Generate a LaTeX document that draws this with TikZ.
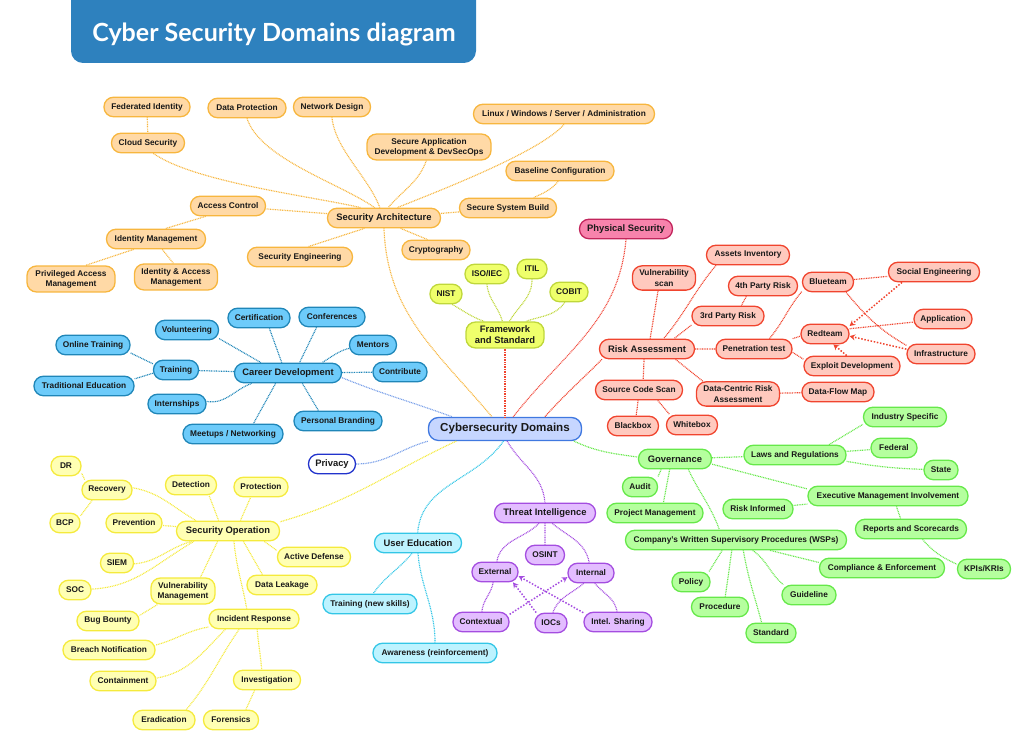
\documentclass[tikz,border=0pt]{standalone}
\usepackage{fontspec}
\setmainfont{Liberation Sans}
\newfontfamily\titlefont{Lato}
\usetikzlibrary{arrows.meta}
\definecolor{orangefill}{HTML}{FFD9A6}
\definecolor{orangeline}{HTML}{F7B63E}
\definecolor{limefill}{HTML}{EFFF6B}
\definecolor{limeline}{HTML}{BFD73A}
\definecolor{pinkfill}{HTML}{F783AC}
\definecolor{pinkline}{HTML}{C2255C}
\definecolor{redfill}{HTML}{FFC9BE}
\definecolor{redline}{HTML}{F0442E}
\definecolor{bluefill}{HTML}{6DCBFA}
\definecolor{blueline}{HTML}{1F86B8}
\definecolor{yellowfill}{HTML}{FFFFB3}
\definecolor{yellowline}{HTML}{F5EA3C}
\definecolor{cyanfill}{HTML}{BDF3FF}
\definecolor{cyanline}{HTML}{33C6E6}
\definecolor{purplefill}{HTML}{E3BDFF}
\definecolor{purpleline}{HTML}{A44DE0}
\definecolor{greenfill}{HTML}{B5FF9E}
\definecolor{greenline}{HTML}{66E84A}
\definecolor{corefill}{HTML}{C6D6FF}
\definecolor{coreline}{HTML}{3F78E0}
\definecolor{navyline}{HTML}{2233CC}
\definecolor{titleblue}{HTML}{2E81BE}
\tikzset{
  topic/.style={draw,rounded corners=9.5pt,line width=1.3pt,align=center,text=black!90,inner xsep=1pt,inner ysep=4pt,
    minimum height=19.5pt,font=\bfseries\fontsize{8.3}{10.2}\selectfont},
  big/.style={font=\bfseries\fontsize{9.4}{11}\selectfont},
  orangenode/.style={topic,draw=orangeline,fill=orangefill},
  limenode/.style={topic,draw=limeline,fill=limefill},
  rednode/.style={topic,draw=redline,fill=redfill},
  bluenode/.style={topic,draw=blueline,fill=bluefill},
  yellownode/.style={topic,draw=yellowline,fill=yellowfill},
  cyannode/.style={topic,draw=cyanline,fill=cyanfill},
  purplenode/.style={topic,draw=purpleline,fill=purplefill},
  greennode/.style={topic,draw=greenline,fill=greenfill},
  link/.style={line width=1.2pt,dash pattern=on 0.9pt off 0.8pt},
  jump/.style={line width=1.5pt,dash pattern=on 1.5pt off 1.7pt,-{Stealth[length=5.5pt,width=6pt,open,line width=1pt]}}
}
\begin{document}
\begin{tikzpicture}[x=1pt,y=1pt]
  \useasboundingbox (0,1) rectangle (1026,736);
  \fill[titleblue] (71,736) [rounded corners=12pt] -- (71,673) -- (476,673) [sharp corners] -- (476,736) -- cycle;
  \node[text=white,font=\titlefont\bfseries\fontsize{25}{30}\selectfont] (title) at (274,702) {Cyber Security Domains diagram};

  \node[topic,draw=coreline,fill=corefill,minimum width=153pt,minimum height=23pt,rounded corners=10pt,font=\bfseries\fontsize{11.6}{13}\selectfont] (cyber) at (505,307) {Cybersecurity Domains};
  \node[topic,big,draw=navyline,fill=white,minimum width=47pt] (privacy) at (332,272) {Privacy};
  \node[topic,big,draw=pinkline,fill=pinkfill,minimum width=93pt] (physical) at (626,507) {Physical Security};

  % architecture
  \node[orangenode,big,minimum width=113pt] (secarch) at (384,518) {Security Architecture};
  \node[orangenode,minimum width=86pt] (fedid) at (147,629) {Federated Identity};
  \node[orangenode,minimum width=73pt] (cloud) at (148,593) {Cloud Security};
  \node[orangenode,minimum width=78pt] (dataprot) at (247,628) {Data Protection};
  \node[orangenode,minimum width=77pt] (netdes) at (332,629) {Network Design};
  \node[orangenode,minimum width=124pt] (secapp) at (429,589) {Secure Application\\Development \& DevSecOps};
  \node[orangenode,minimum width=181pt] (linux) at (564,622) {Linux / Windows / Server / Administration};
  \node[orangenode,minimum width=108pt] (baseline) at (560,565) {Baseline Configuration};
  \node[orangenode,minimum width=97pt] (secbuild) at (508,528) {Secure System Build};
  \node[orangenode,minimum width=75pt] (access) at (228,530) {Access Control};
  \node[orangenode,minimum width=99pt] (idmgmt) at (156,497) {Identity Management};
  \node[orangenode,minimum width=105pt] (seceng) at (300,479) {Security Engineering};
  \node[orangenode,minimum width=68pt] (crypto) at (436,486) {Cryptography};
  \node[orangenode,minimum width=88pt] (privaccess) at (71,457) {Privileged Access\\Management};
  \node[orangenode,minimum width=83pt] (idaccess) at (176,459) {Identity \& Access\\Management};

  % standards
  \node[limenode,big,minimum width=78pt] (framework) at (505,401) {Framework\\and Standard};
  \node[limenode,minimum width=32pt] (nist) at (446,442) {NIST};
  \node[limenode,minimum width=44pt] (iso) at (487,462) {ISO/IEC};
  \node[limenode,minimum width=30pt] (itil) at (532,467) {ITIL};
  \node[limenode,minimum width=38pt] (cobit) at (569,444) {COBIT};

  % risk
  \node[rednode,big,minimum width=95pt] (risk) at (647,387) {Risk Assessment};
  \node[rednode,minimum width=63pt] (vuln) at (664,458) {Vulnerability\\scan};
  \node[rednode,minimum width=83pt] (assets) at (748,481) {Assets Inventory};
  \node[rednode,minimum width=69pt] (party4) at (763,450) {4th Party Risk};
  \node[rednode,minimum width=72pt] (party3) at (728,420) {3rd Party Risk};
  \node[rednode,minimum width=76pt] (pentest) at (754,387) {Penetration test};
  \node[rednode,minimum width=51pt] (blueteam) at (828,454) {Blueteam};
  \node[rednode,minimum width=91pt] (social) at (934,464) {Social Engineering};
  \node[rednode,minimum width=48pt] (redteam) at (825,402) {Redteam};
  \node[rednode,minimum width=58pt] (app) at (943,417) {Application};
  \node[rednode,minimum width=68pt] (infra) at (941,382) {Infrastructure};
  \node[rednode,minimum width=96pt] (exploit) at (852,370) {Exploit Development};
  \node[rednode,minimum width=87pt] (srcscan) at (639,346) {Source Code Scan};
  \node[rednode,minimum width=83pt] (datarisk) at (738,342) {Data-Centric Risk\\Assessment};
  \node[rednode,minimum width=72pt] (dataflow) at (838,344) {Data-Flow Map};
  \node[rednode,minimum width=51pt] (blackbox) at (633,310) {Blackbox};
  \node[rednode,minimum width=51pt] (whitebox) at (692,311) {Whitebox};

  % career
  \node[bluenode,big,minimum width=107pt] (career) at (288,363) {Career Development};
  \node[bluenode,minimum width=63pt] (volunteer) at (187,406) {Volunteering};
  \node[bluenode,minimum width=62pt] (cert) at (259,418) {Certification};
  \node[bluenode,minimum width=66pt] (conf) at (332,419) {Conferences};
  \node[bluenode,minimum width=47pt] (mentors) at (373,391) {Mentors};
  \node[bluenode,minimum width=54pt] (contribute) at (400,364) {Contribute};
  \node[bluenode,minimum width=45pt] (training) at (176,366) {Training};
  \node[bluenode,minimum width=74pt] (online) at (93,391) {Online Training};
  \node[bluenode,minimum width=100pt] (tradedu) at (84,350) {Traditional Education};
  \node[bluenode,minimum width=58pt] (intern) at (177,332) {Internships};
  \node[bluenode,minimum width=100pt] (meetups) at (233,302) {Meetups / Networking};
  \node[bluenode,minimum width=88pt] (branding) at (338,315) {Personal Branding};

  % operation
  \node[yellownode,big,minimum width=103pt] (secop) at (228,205) {Security Operation};
  \node[yellownode,minimum width=30pt] (dr) at (66,270) {DR};
  \node[yellownode,minimum width=50pt] (recovery) at (107,246) {Recovery};
  \node[yellownode,minimum width=30pt] (bcp) at (65,213) {BCP};
  \node[yellownode,minimum width=56pt] (prevention) at (134,213) {Prevention};
  \node[yellownode,minimum width=51pt] (detection) at (191,251) {Detection};
  \node[yellownode,minimum width=54pt] (protection) at (261,249) {Protection};
  \node[yellownode,minimum width=33pt] (siem) at (117,173) {SIEM};
  \node[yellownode,minimum width=32pt] (soc) at (75,146) {SOC};
  \node[yellownode,minimum width=73pt] (active) at (314,179) {Active Defense};
  \node[yellownode,minimum width=70pt] (leakage) at (282,151) {Data Leakage};
  \node[yellownode,minimum width=64pt] (vulnmgmt) at (183,145) {Vulnerability\\Management};
  \node[yellownode,minimum width=62pt] (bug) at (108,115) {Bug Bounty};
  \node[yellownode,minimum width=90pt] (incident) at (254,117) {Incident Response};
  \node[yellownode,minimum width=92pt] (breach) at (109,86) {Breach Notification};
  \node[yellownode,minimum width=66pt] (contain) at (123,55) {Containment};
  \node[yellownode,minimum width=67pt] (investig) at (267,56) {Investigation};
  \node[yellownode,minimum width=62pt] (eradic) at (164,16) {Eradication};
  \node[yellownode,minimum width=55pt] (forensic) at (231,16) {Forensics};

  % education
  \node[cyannode,big,minimum width=87pt] (usered) at (418,193) {User Education};
  \node[cyannode,minimum width=94pt] (trainnew) at (370,132) {Training (new skills)};
  \node[cyannode,minimum width=124pt] (aware) at (435,83) {Awareness (reinforcement)};

  % threat
  \node[purplenode,big,minimum width=101pt] (threat) at (545,223) {Threat Intelligence};
  \node[purplenode,minimum width=39pt] (osint) at (545,181) {OSINT};
  \node[purplenode,minimum width=46pt] (external) at (495,164) {External};
  \node[purplenode,minimum width=46pt] (internal) at (591,163) {Internal};
  \node[purplenode,minimum width=56pt] (contextual) at (481,114) {Contextual};
  \node[purplenode,minimum width=32pt] (iocs) at (551,113) {IOCs};
  \node[purplenode,minimum width=68pt] (intel) at (618,114) {Intel. Sharing};

  % governance
  \node[greennode,big,minimum width=73pt] (gov) at (675,277) {Governance};
  \node[greennode,minimum width=35pt] (audit) at (640,249) {Audit};
  \node[greennode,minimum width=96pt] (project) at (655,223) {Project Management};
  \node[greennode,minimum width=221pt] (company) at (736,196) {Company's Written Supervisory Procedures (WSPs)};
  \node[greennode,minimum width=102pt] (laws) at (795,281) {Laws and Regulations};
  \node[greennode,minimum width=83pt] (industry) at (905,319) {Industry Specific};
  \node[greennode,minimum width=46pt] (federal) at (894,288) {Federal};
  \node[greennode,minimum width=34pt] (state) at (941,266) {State};
  \node[greennode,minimum width=160pt] (exec) at (888,240) {Executive Management Involvement};
  \node[greennode,minimum width=70pt] (riskinf) at (758,227) {Risk Informed};
  \node[greennode,minimum width=111pt] (reports) at (911,207) {Reports and Scorecards};
  \node[greennode,minimum width=53pt] (kpis) at (984,167) {KPIs/KRIs};
  \node[greennode,minimum width=125pt] (comply) at (882,168) {Compliance \& Enforcement};
  \node[greennode,minimum width=54pt] (guide) at (809,141) {Guideline};
  \node[greennode,minimum width=50pt] (standard) at (771,103) {Standard};
  \node[greennode,minimum width=57pt] (procedure) at (720,129) {Procedure};
  \node[greennode,minimum width=38pt] (policy) at (691,154) {Policy};

  \draw[link,orangeline]
    (cloud.-63) to[out=-35,in=167,looseness=0.6] (secarch.156)
    (fedid) -- (cloud)
    (dataprot.south) to[out=-72,in=145,looseness=0.7] (secarch.132)
    (netdes.south) to[out=-85,in=110,looseness=0.8] (secarch.112)
    (secapp.-101) to[out=-110,in=50] (secarch.68)
    (linux.south) to[out=-130,in=22,looseness=0.5] (secarch.38)
    (baseline.-100) to[out=-130,in=25] (secbuild.22)
    (secarch) -- (secbuild)
    (secarch) -- (access)
    (access.-155) -- (idmgmt.48)
    (idmgmt.-155) -- (privaccess.43)
    (idmgmt.-59) -- (idaccess.101)
    (secarch.-152) -- (seceng.51)
    (secarch.-32) -- (crypto.129)
    (secarch.south) to[out=-88,in=130] (cyber.137);
  \draw[link,limeline]
    (nist.-59) to[out=-30,in=160] (framework.147)
    (iso.south) to[out=-85,in=105] (framework.101)
    (itil.south) to[out=-90,in=60] (framework.72)
    (cobit.-112) to[out=-125,in=20] (framework.33);
  \draw[link,redline] (framework) -- (cyber);
  \draw[link,redline!85!pinkfill] (physical.south) to[out=-95,in=52] (cyber.56);
  \draw[link,redline]
    (risk.-167) to[out=-135,in=48] (cyber.17)
    (vuln.-115) -- (risk.73)
    (assets.-162) to[out=-130,in=50] (risk.32)
    (party3.-166) -- (risk.21)
    (party4.-148) -- (party3.38)
    (risk) -- (pentest)
    (pentest.34) to[out=50,in=-130] (blueteam.-160)
    (pentest.15) -- (redteam.-175)
    (pentest.-5) -- (exploit.172)
    (blueteam) -- (social)
    (blueteam.-30) to[out=-50,in=150] (infra.166)
    (redteam.12) -- (app)
    (risk.-106) -- (srcscan.68)
    (risk.-20) -- (datarisk.160)
    (srcscan.-95) -- (blackbox.73)
    (srcscan.-29) -- (whitebox.155)
    (datarisk) -- (dataflow);
  \draw[jump,redline] (social.-162) -- (redteam.18);
  \draw[jump,redline] (infra.172) -- (redteam.-5);
  \draw[jump,redline] (exploit.117) -- (redteam.-51);
  \draw[link,coreline!70]
    (career.-5) to[out=-22,in=160] (cyber.167)
    (privacy) to[out=0,in=195] (cyber.-171);
  \draw[link,blueline]
    (volunteer.-15) -- (career.159)
    (cert.-45) -- (career.121)
    (conf.-146) -- (career.42)
    (mentors.-172) to[out=-165,in=30] (career.17)
    (career) -- (contribute)
    (career) -- (training)
    (training.165) -- (online.-12)
    (training.-172) -- (tradedu.8)
    (intern.5) to[out=-10,in=-160] (career.-164)
    (career.-140) -- (meetups.27)
    (career.-36) -- (branding.152);
  \draw[link,yellowline]
    (cyber.-166) to[out=205,in=16] (secop.10)
    (recovery.5) to[out=-10,in=150] (secop.162)
    (recovery.155) -- (dr.-25)
    (recovery.-145) -- (bcp.25)
    (secop) -- (prevention)
    (secop.132) -- (detection.-30)
    (secop.40) -- (protection.-135)
    (siem.-3) to[out=5,in=-165] (secop.-164)
    (soc) to[out=3,in=-150] (secop.-163)
    (secop.-16) -- (active.170)
    (secop.-34) -- (leakage.152)
    (secop.-135) -- (vulnmgmt.38)
    (vulnmgmt.-152) -- (bug.10)
    (secop.-60) to[out=-85,in=100] (incident.125)
    (incident.-170) to[out=-170,in=15] (breach.6)
    (incident.-160) to[out=-135,in=10] (contain.5)
    (incident.-145) to[out=-125,in=50] (eradic.25)
    (incident.-73) to[out=-85,in=95] (investig.117)
    (investig.-140) -- (forensic.35);
  \draw[link,cyanline]
    (cyber.-97) to[out=-125,in=85] (usered.92)
    (usered.-120) to[out=-130,in=55] (trainnew.73)
    (usered.south) to[out=-85,in=90] (aware.north);
  \draw[link,purpleline]
    (cyber.-80) to[out=-60,in=95] (threat.north)
    (threat.-120) to[out=-135,in=80] (external.80)
    (threat) -- (osint)
    (threat.-55) to[out=-40,in=100] (internal.100)
    (external.-100) to[out=-100,in=85] (contextual.85)
    (internal.-125) to[out=-140,in=70] (iocs.80)
    (internal.-70) to[out=-50,in=100] (intel.95);
  \draw[jump,purpleline] (contextual.15) -- (internal.-170);
  \draw[jump,purpleline] (iocs.145) -- (external.-30);
  \draw[jump,purpleline] (intel.165) -- (external.-10);
  \draw[link,greenline]
    (cyber.-10) to[out=-25,in=172] (gov.177)
    (gov) -- (laws)
    (gov.-143) -- (audit.30)
    (gov.-117) -- (project.51)
    (gov.-38) to[out=-65,in=110] (company.148)
    (gov.-8) -- (exec.175)
    (laws.17) -- (industry.-170)
    (laws) -- (federal)
    (laws.-7) to[out=-10,in=178] (state)
    (riskinf) -- (exec)
    (exec.-51) -- (reports.135)
    (reports.-42) to[out=-50,in=155] (kpis.170)
    (company.-17) -- (comply.175)
    (company.-32) to[out=-35,in=140] (guide.158)
    (company.-55) to[out=-80,in=105] (standard.132)
    (company.-112) -- (procedure.63)
    (company.-143) -- (policy.30);
\end{tikzpicture}
\end{document}
